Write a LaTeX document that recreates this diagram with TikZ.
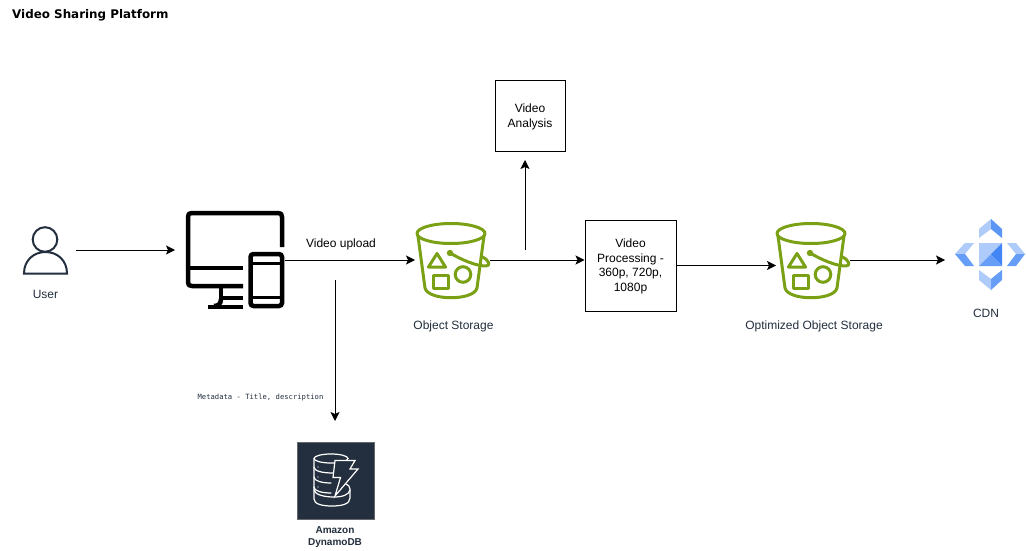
\documentclass[tikz,border=0pt]{standalone}
\usepackage{fontspec}
\setmainfont{Liberation Sans}
\newfontfamily\titlefont{DejaVu Sans}
\newfontfamily\monofont{DejaVu Sans Mono}
\usetikzlibrary{arrows.meta}
\definecolor{awsdark}{HTML}{232F3E}
\definecolor{s3green}{HTML}{7AA116}
\definecolor{gl}{HTML}{AECBFA}
\definecolor{gm}{HTML}{669DF6}
\definecolor{gd}{HTML}{4285F4}
\newcommand{\boxtext}[1]{\raisebox{-1pt}[\height][\depth]{\begin{tabular}{@{}c@{}}#1\end{tabular}}}
\tikzset{
  x=1pt,y=-1pt,
  conn/.style={draw=black,line width=1pt,-{Stealth[length=9pt,width=9pt,inset=2pt]}},
  box/.style={draw=black,line width=1pt,fill=white,align=center,font=\fontsize{12}{14.7}\selectfont,inner sep=0pt},
  anchorbox/.style={inner sep=0pt,outer sep=0pt},
  lab/.style={font=\fontsize{12}{15}\selectfont,text=awsdark,inner sep=0pt,align=center},
  devline/.style={draw=black,line width=4.5pt,line cap=butt,line join=round},
  bucket/.pic={
    \begin{scope}[draw=s3green,line width=3pt,line join=round,line cap=round]
      \draw (451,233.5) ellipse [x radius=34,y radius=10];
      \draw (418,236) -- (425,288) .. controls (428,301) and (474,301) .. (477,288) -- (484,236);
      \draw (450,253) .. controls (462,260) and (476,266) .. (486,266) .. controls (491,266) and (489,260) .. (482.5,257);
      \fill[s3green] (450,253) circle [radius=3.2];
      \draw (437,253.5) -- (428.5,267) -- (445.5,267) -- cycle;
      \draw (463,274.5) circle [radius=7.8];
      \draw (433.5,275.5) rectangle (448,288.5);
    \end{scope}
  }
}
\begin{document}
\begin{tikzpicture}
\useasboundingbox[fill=white] (0,0) rectangle (1026,551);

% anchor nodes for the icons
\node[anchorbox,minimum width=62pt,minimum height=62pt] (user) at (45,250) {};
\node[anchorbox,minimum width=110pt,minimum height=100pt] (dev) at (230,260) {};
\node[anchorbox,minimum width=75pt,minimum height=78pt] (bucketa) at (452.5,260) {};
\node[anchorbox,minimum width=74pt,minimum height=78pt] (bucketb) at (813,260) {};
\node[anchorbox,minimum width=80pt,minimum height=72pt] (cdn) at (985,260) {};
\node[box,minimum width=70pt,minimum height=70pt] (analysis) at (530,116) {\boxtext{Video\\Analysis}};
\node[box,minimum width=91pt,minimum height=91pt] (proc) at (630.5,265.5) {\boxtext{Video\\Processing -\\360p, 720p,\\1080p}};
\node[draw=gray!70!awsdark,fill=awsdark,line width=0.8pt,minimum width=77pt,minimum height=77pt,inner sep=0pt] (dyn) at (335.5,480.5) {};
\coordinate (upstart) at (525,250);
\coordinate (uptip) at (525,160);
\coordinate (metastart) at (335,280);
\coordinate (metatip) at (335,421);

% user icon
\begin{scope}[draw=awsdark,line width=2pt]
  \draw (45,239.5) circle [radius=12.3];
  \draw (24,273.5) -- (67,273.5) .. controls (67,260) and (57,252) .. (45.5,252) .. controls (34,252) and (24,260) .. (24,273.5) -- cycle;
\end{scope}

% device icon
\draw[devline] (282,247) -- (282,217) .. controls (282,214) and (281,213) .. (278,213) -- (192,213) .. controls (189,213) and (188,214) .. (188,217) -- (188,282) .. controls (188,285) and (189,286) .. (192,286) -- (243,286);
\draw[devline] (188,268) -- (243,268);
\draw[devline] (221,286) -- (221,299);
\draw[devline] (220,298) -- (243,298);
\draw[devline] (243,307) -- (208,307);
\draw[devline] (221,299) .. controls (221,304) and (218,306) .. (214,306);
\draw[draw=black,line width=4.5pt,rounded corners=3pt] (250.5,254) rectangle (282,306);
\draw[draw=black,line width=3pt] (250,263) -- (282,263);
\draw[draw=black,line width=3pt] (250,297) -- (282,297);

% buckets
\pic at (0,0) {bucket};
\pic at (360,0) {bucket};

% CDN icon
\fill[gl] (979,243) -- (1002,243) -- (979,266) -- cycle;
\fill[gd] (1002,243) -- (1002,266) -- (990.5,254.5) -- cycle;
\fill[gm] (979,266) -- (1002,266) -- (990.5,254.5) -- cycle;
\fill[gl] (991,219) -- (979,229) -- (979,238) -- (991,229) -- cycle;
\fill[gm!70!gd] (991,219) -- (1002,229) -- (1002,238) -- (991,229) -- cycle;
\fill[gl] (979,270) -- (991,279) -- (991,290) -- (979,280) -- cycle;
\fill[gm] (1002,270) -- (991,279) -- (991,290) -- (1002,280) -- cycle;
\fill[gl] (955,254) -- (965,243) -- (974,243) -- (965,254) -- cycle;
\fill[gm] (955,254) -- (965,266) -- (974,266) -- (965,254) -- cycle;
\fill[gl] (1025,254) -- (1016,243) -- (1007,243) -- (1016,254) -- cycle;
\fill[gm] (1025,254) -- (1016,266) -- (1007,266) -- (1016,254) -- cycle;

% DynamoDB icon
\begin{scope}[draw=white,line width=1.2pt,line cap=round]
  \draw (331,458.5) ellipse [x radius=17,y radius=4.5];
  \draw (314,459) -- (314,467) .. controls (314,471) and (322,473) .. (333,473);
  \draw (314,467) -- (314,477) .. controls (314,481) and (322,483) .. (331,483);
  \draw (314,477) -- (314,487) .. controls (314,491) and (322,493) .. (331,493);
  \draw (314,487) -- (314,499) .. controls (314,504) and (322,506) .. (332,506) .. controls (342,506) and (350,504) .. (350,498) -- (350,489) .. controls (350,486) and (348,485) .. (346,484);
  \draw (314,490) .. controls (315,495) and (325,497) .. (334,497) .. controls (342,497) and (349,495) .. (350,490);
  \fill[white] (318,467) circle [radius=0.7] (318,477) circle [radius=0.7] (318,487) circle [radius=0.7];
  \draw[line join=miter,fill=awsdark] (335,460.5) -- (355,460.5) -- (350,469) -- (358,469) -- (335,496) -- (340.5,477.5) -- (333,477.5) -- cycle;
\end{scope}

% connectors
\draw[conn] (user.east) -- (user.east -| dev.west);
\draw[conn] (dev.east) -- (bucketa.west);
\draw[conn] (bucketa.east) -- (bucketa.east -| proc.west);
\draw[conn] (upstart) -- (uptip);
\draw[conn] (proc.east) -- (proc.east -| bucketb.west);
\draw[conn] (bucketb.east) -- (bucketb.east -| cdn.west);
\draw[conn] (metastart) -- (metatip);

% labels
\node[anchor=west,inner sep=0pt,font=\titlefont\bfseries\fontsize{11.9}{14}\selectfont] (title) at (12,15) {Video Sharing Platform};
\node[lab] (userlab) at (45.5,294) {User};
\node[lab,text=black] (uplab) at (341,244.5) {Video upload};
\node[lab] (osa) at (453.5,326) {Object Storage};
\node[lab] (osb) at (814,326) {Optimized Object Storage};
\node[lab] (cdnlab) at (986,313.5) {CDN};
\node[inner sep=0pt,text=awsdark,font=\monofont\fontsize{7.2}{9}\selectfont] (meta) at (260.5,397) {Metadata - Title, description};
\node[inner sep=0pt,align=center,text=awsdark,font=\bfseries\fontsize{10}{12}\selectfont] (dynlab) at (335,537) {Amazon\\DynamoDB};
\end{tikzpicture}
\end{document}
